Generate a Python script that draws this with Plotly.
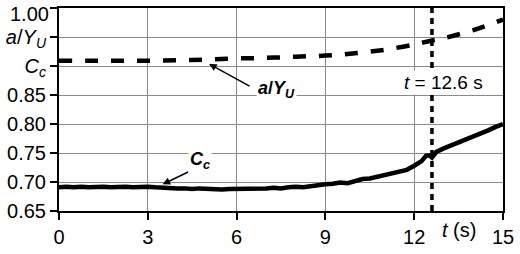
import plotly.graph_objects as go

# a/Y_U (dashed) curve
t_a = [0, 1, 2, 3, 4, 5, 6, 7, 8, 9, 10, 11, 12, 12.6, 13, 14, 15]
a_yu = [0.909, 0.909, 0.909, 0.909, 0.910, 0.911, 0.913, 0.914, 0.916, 0.918,
        0.922, 0.928, 0.937, 0.944, 0.948, 0.962, 0.980]

# C_c (solid) curve
t_c = [0, 0.25, 0.5, 0.75, 1, 1.25, 1.5, 1.75, 2, 2.25, 2.5, 2.75, 3,
       3.25, 3.5, 3.75, 4, 4.25, 4.5, 4.75, 5, 5.25, 5.5, 5.75, 6,
       6.25, 6.5, 6.75, 7, 7.25, 7.5, 7.75, 8, 8.25, 8.5, 8.75, 9,
       9.25, 9.5, 9.75, 10, 10.25, 10.5, 10.75, 11, 11.25, 11.5, 11.75, 12,
       12.25, 12.4, 12.5, 12.6, 12.75, 13, 13.25, 13.5, 13.75, 14, 14.25, 14.5, 14.75, 15]
c_c = [0.691, 0.692, 0.691, 0.692, 0.691, 0.692, 0.692, 0.691, 0.692, 0.692, 0.691, 0.692, 0.692,
       0.691, 0.690, 0.690, 0.689, 0.689, 0.688, 0.689, 0.688, 0.688, 0.687, 0.688, 0.688,
       0.688, 0.689, 0.688, 0.689, 0.690, 0.689, 0.691, 0.692, 0.691, 0.693, 0.694, 0.696,
       0.697, 0.699, 0.698, 0.702, 0.705, 0.706, 0.709, 0.711, 0.714, 0.718, 0.721, 0.728,
       0.736, 0.745, 0.746, 0.742, 0.752, 0.758, 0.763, 0.767, 0.773, 0.778, 0.784, 0.789, 0.795, 0.800]

# event time
t_event = 12.6

x_ticks = [0, 3, 6, 9, 12, 15]
y_ticks = [0.65, 0.70, 0.75, 0.80, 0.85, 0.90, 0.95, 1.00]
y_ticktext = ["0.65", "0.70", "0.75", "0.80", "0.85",
              "<i>C<sub>c</sub></i>", "<i>a</i>/<i>Y<sub>U</sub></i>", ""]

FONT = "Arial, Liberation Sans, sans-serif"

fig = go.Figure()
fig.add_trace(go.Scatter(x=[t_event, t_event], y=[0.65, 1.0], mode="lines",
                         line=dict(color="black", width=3.5, dash="6px,5px"),
                         showlegend=False, hoverinfo="skip"))
fig.add_trace(go.Scatter(x=t_a, y=a_yu, mode="lines", line_shape="spline",
                         line=dict(color="black", width=4.5, dash="13px,13px"),
                         showlegend=False))
fig.add_trace(go.Scatter(x=t_c, y=c_c, mode="lines",
                         line=dict(color="black", width=4.5),
                         showlegend=False))

fig.update_layout(
    width=520, height=254,
    margin=dict(l=55, r=12, t=6, b=34),
    paper_bgcolor="white", plot_bgcolor="white",
    font=dict(family=FONT, size=20, color="black"),
    xaxis=dict(range=[0, 15], tickvals=x_ticks, showgrid=True, gridcolor="#8a8a8a",
               gridwidth=1, showline=True, linecolor="black", linewidth=2, mirror=True,
               ticks="outside", ticklen=7, tickwidth=2, tickcolor="black",
               zeroline=False, tickfont=dict(size=20)),
    yaxis=dict(range=[0.65, 1.0], tickvals=y_ticks, ticktext=y_ticktext,
               showgrid=True, gridcolor="#8a8a8a", gridwidth=1,
               showline=True, linecolor="black", linewidth=2, mirror=True,
               ticks="outside", ticklen=7, tickwidth=2, tickcolor="black",
               zeroline=False, tickfont=dict(size=20)),
)

# 1.00 label (placed below the top edge)
fig.add_annotation(xref="paper", yref="paper", x=0, y=1, xanchor="right", yanchor="top",
                   xshift=-8, yshift=7, text="1.00", showarrow=False,
                   font=dict(size=20))
# t (s) axis label
fig.add_annotation(xref="x", yref="paper", x=13.5, y=0, yanchor="top", yshift=-6,
                   text="<i>t</i> (s)", showarrow=False, font=dict(size=20))

# arrows
fig.add_annotation(x=5.07, y=0.9035, ax=42, ay=23, text="", showarrow=True,
                   arrowhead=2, arrowsize=1, arrowwidth=1.5, arrowcolor="black")
fig.add_annotation(x=3.5, y=0.696, ax=27, ay=-13, text="", showarrow=True,
                   arrowhead=2, arrowsize=1, arrowwidth=1.5, arrowcolor="black")

# labels
fig.add_annotation(x=7.35, y=0.86, text="<b><i>a</i>/<i>Y<sub>U</sub></i></b>",
                   showarrow=False, bgcolor="white", font=dict(size=18))
fig.add_annotation(x=4.77, y=0.737, text="<b><i>C<sub>c</sub></i></b>",
                   showarrow=False, bgcolor="white", font=dict(size=18))
fig.add_annotation(x=12.98, y=0.871, text="<i>t</i> = 12.6 s",
                   showarrow=False, bgcolor="white", font=dict(size=19))

fig.write_html("out.html")
